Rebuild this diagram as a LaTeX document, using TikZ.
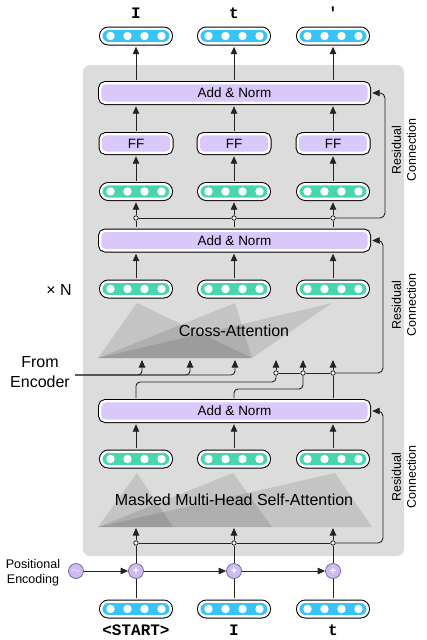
\documentclass[tikz,border=0pt]{standalone}
\usepackage{fontspec}
\setmainfont{Liberation Sans}
\setmonofont{Liberation Mono}
\usetikzlibrary{arrows.meta}
\definecolor{lav}{RGB}{218,200,250}
\definecolor{lavc}{RGB}{206,186,242}
\definecolor{lavd}{RGB}{110,95,140}
\definecolor{bgc}{RGB}{220,220,220}
\definecolor{vblue}{RGB}{56,196,248}
\definecolor{vgreen}{RGB}{72,214,178}
\definecolor{lnc}{RGB}{35,35,35}
\tikzset{
  boxst/.style={fill=#1, draw=white, line width=2.4pt, preaction={draw=black, line width=4.4pt}},
  vecst/.style={boxst=#1, rounded corners=7.3pt, minimum width=69.6pt, minimum height=14.6pt, inner sep=0pt},
  normst/.style={boxst=lav, rounded corners=5pt, minimum width=268.6pt, minimum height=19.6pt, inner sep=0pt, font=\fontsize{13.5}{15}\selectfont},
  ffst/.style={boxst=lav, rounded corners=5pt, minimum width=70.6pt, minimum height=18.6pt, inner sep=0pt, font=\fontsize{13.5}{15}\selectfont},
  wdot/.style={circle, fill=white, minimum size=8.4pt, inner sep=0pt},
  junc/.style={circle, draw=black, fill=white, line width=0.7pt, minimum size=4.4pt, inner sep=0pt},
  plusst/.style={circle, draw=lavd, fill=lavc, line width=0.7pt, minimum size=15pt, inner sep=0pt, text=white, font=\fontsize{11}{11}\selectfont\bfseries},
  conn/.style={draw=lnc, line width=0.9pt},
  arr/.style={conn, -{Triangle[length=7.5pt,width=6.5pt]}},
  sb/.style={shorten <=2.2pt},
  se/.style={shorten >=2.2pt},
  tri/.style={fill=black, fill opacity=0.105},
  tok/.style={font=\fontsize{16}{16}\selectfont\ttfamily\bfseries},
  lbl/.style={font=\fontsize{16}{20}\selectfont, align=center},
  rlbl/.style={font=\fontsize{12.5}{15}\selectfont, align=center, rotate=90},
}
\newcommand\fourdots[2]{%
  \foreach \dx in {-25.5,-8.5,8.5,25.5} \node[wdot] at (#1+\dx,#2) {};
}
\begin{document}
\begin{tikzpicture}[x=1pt,y=-1pt]
\useasboundingbox (0,0) rectangle (426,640);
% background
\fill[bgc, rounded corners=7pt] (83,65) rectangle (404,556);
% attention triangles
\fill[tri] (137,303) -- (252,358) -- (98,358) -- cycle;
\fill[tri] (235,303) -- (252,358) -- (98,358) -- cycle;
\fill[tri] (332,303) -- (252,358) -- (98,358) -- cycle;
\fill[tri] (137,473) -- (173,527) -- (98,527) -- cycle;
\fill[tri] (233,473) -- (272,527) -- (98,527) -- cycle;
\fill[tri] (335,473) -- (372,527) -- (98,527) -- cycle;
\node[font=\fontsize{16}{16}\selectfont] (catt) at (234,331) {Cross-Attention};
\node[font=\fontsize{16}{16}\selectfont] (matt) at (234,500) {Masked Multi-Head Self-Attention};

% top output vectors and labels
\node[vecst=vblue] (o1) at (136,36) {}; \fourdots{136}{36}
\node[vecst=vblue] (o2) at (234,36) {}; \fourdots{234}{36}
\node[vecst=vblue] (o3) at (333,36) {}; \fourdots{333}{36}
\node[tok] (ot1) at (136,13) {I};
\node[tok] (ot2) at (234,13) {t};
\node[tok] (ot3) at (333,13) {'};

% top add & norm
\node[normst] (an3) at (234.5,93) {Add \& Norm};
% FF
\node[ffst] (f1) at (136,143.5) {FF};
\node[ffst] (f2) at (234,143.5) {FF};
\node[ffst] (f3) at (333,143.5) {FF};
% green vectors under FF
\node[vecst=vgreen] (h1) at (136,191.5) {}; \fourdots{136}{191.5}
\node[vecst=vgreen] (h2) at (234,191.5) {}; \fourdots{234}{191.5}
\node[vecst=vgreen] (h3) at (333,191.5) {}; \fourdots{333}{191.5}
\node[junc] (j1) at (136,218) {};
\node[junc] (j2) at (234,218) {};
\node[junc] (j3) at (333,218) {};
\coordinate (r3) at (385,218);

% middle add & norm
\node[normst] (an2) at (234.5,240.5) {Add \& Norm};
\node[vecst=vgreen] (c1) at (136,289) {}; \fourdots{136}{289}
\node[vecst=vgreen] (c2) at (234,289) {}; \fourdots{234}{289}
\node[vecst=vgreen] (c3) at (333,289) {}; \fourdots{333}{289}

% cross-attention inputs
\coordinate (enc) at (75,375);
\coordinate (e1) at (142,360);
\coordinate (e2) at (190,360);
\coordinate (e3) at (235,360);
\node[junc] (k1) at (276,373) {};
\node[junc] (k2) at (303,373) {};
\node[junc] (k3) at (333,373) {};
\coordinate (r2) at (383,373);

% lower add & norm
\node[normst] (an1) at (234.5,411) {Add \& Norm};
\node[vecst=vgreen] (s1) at (136,459) {}; \fourdots{136}{459}
\node[vecst=vgreen] (s2) at (234,459) {}; \fourdots{234}{459}
\node[vecst=vgreen] (s3) at (333,459) {}; \fourdots{333}{459}
\coordinate (m1) at (136,528);
\coordinate (m2) at (234,528);
\coordinate (m3) at (333,528);
\node[junc] (b1) at (136,543) {};
\node[junc] (b2) at (234,543) {};
\node[junc] (b3) at (333,543) {};
\coordinate (r1) at (383,543);

% positional encoding
\node[plusst] (pe) at (76,571) {$\sim$};
\node[plusst] (p1) at (136,571) {+};
\node[plusst] (p2) at (234,571) {+};
\node[plusst] (p3) at (333,571) {+};
\node[vecst=vblue] (i1) at (136,609) {}; \fourdots{136}{609}
\node[vecst=vblue] (i2) at (234,609) {}; \fourdots{234}{609}
\node[vecst=vblue] (i3) at (333,609) {}; \fourdots{333}{609}
\node[tok] (it1) at (136,630) {<START>};
\node[tok] (it2) at (234,630) {I};
\node[tok] (it3) at (333,630) {t};

% side labels
\node[lbl] (xn) at (59,290) {× N};
\node[lbl] (fe) at (40,372) {From\\Encoder};
\node[font=\fontsize{12.5}{15}\selectfont, align=center] (pel) at (33,573) {Positional\\Encoding};
\node[rlbl] (rl3) at (404,150) {Residual\\Connection};
\node[rlbl] (rl2) at (404,305) {Residual\\Connection};
\node[rlbl] (rl1) at (404,477) {Residual\\Connection};

% ---- connectors ----
\foreach \c in {1,2,3} {
  \draw[arr,sb,se] (an3.north -| o\c) -- (o\c.south);
  \draw[arr,sb,se] (f\c.north) -- (f\c.north |- an3.south);
  \draw[arr,sb,se] (h\c.north) -- (f\c.south);
  \draw[arr,se] (j\c) -- (h\c.south);
  \draw[conn,sb] (an2.north -| j\c) -- (j\c);
  \draw[arr,sb,se] (c\c.north) -- (c\c.north |- an2.south);
  \draw[arr,sb,se] (s\c.north) -- (s\c.north |- an1.south);
  \draw[arr] (b\c) -- (m\c);
  \draw[conn] (p\c) -- (b\c);
  \draw[conn,sb] (i\c.north) -- (p\c);
}
\draw[conn] (j1) -- (j2);
\draw[conn] (j2) -- (j3);
\draw[arr,se,rounded corners=5pt] (j3) -- (r3) |- (an3.east);

\draw[arr,rounded corners=4pt] (enc) -| (e1);
\draw[arr,rounded corners=4pt] (enc) -| (e2);
\draw[arr,rounded corners=4pt] (enc) -| (e3);
\draw[conn,sb,rounded corners=4pt] (an1.north -| s1) -- ++(0,-18) -| (k1);
\draw[conn,sb,rounded corners=4pt] (an1.north -| s2) -- ++(0,-11) -| (k2);
\draw[conn,sb] (an1.north -| s3) -- (k3);
\draw[arr] (k1) -- (k1 |- e1);
\draw[arr] (k2) -- (k2 |- e1);
\draw[arr] (k3) -- (k3 |- e1);
\draw[conn] (k1) -- (k2);
\draw[conn] (k2) -- (k3);
\draw[arr,se,rounded corners=5pt] (k3) -- (r2) |- (an2.east);

\draw[conn] (b1) -- (b2);
\draw[conn] (b2) -- (b3);
\draw[arr,se,rounded corners=5pt] (b3) -- (r1) |- (an1.east);

\draw[arr] (pe) -- (p1);
\draw[arr] (p1) -- (p2);
\draw[arr] (p2) -- (p3);
\end{tikzpicture}
\end{document}
